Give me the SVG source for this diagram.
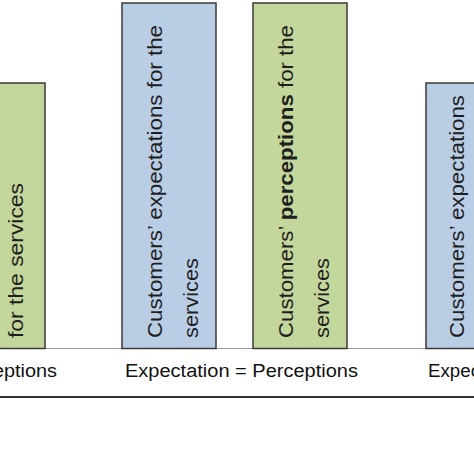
<svg xmlns="http://www.w3.org/2000/svg" width="474" height="474" viewBox="0 0 474 474">
<style>
.bar{stroke:#3a3a3a;stroke-width:1.5}
.blue{fill:#b9cde5}
.green{fill:#c3d69b}
.t{font-family:"Liberation Sans",Arial,sans-serif;font-size:21px;fill:#1e1e1e}
.lbl{font-family:"Liberation Sans",Arial,sans-serif;font-size:18px;fill:#111}
</style>
<rect width="474" height="474" fill="#ffffff"/>
<g id="connectors">
<line x1="0" y1="348.5" x2="474" y2="348.5" stroke="#9a9a9a" stroke-width="1.2"/>
<line x1="0" y1="397" x2="474" y2="397" stroke="#333" stroke-width="2"/>
</g>
<g id="bar1">
<rect class="bar green" x="-10" y="83" width="55" height="265.5"/>
<text class="t" transform="translate(23,338) rotate(-90)" textLength="155" lengthAdjust="spacingAndGlyphs">for the services</text>
</g>
<g id="bar2">
<rect class="bar blue" x="122" y="3" width="94" height="345.5"/>
<text class="t" transform="translate(162,338) rotate(-90)" textLength="313" lengthAdjust="spacingAndGlyphs">Customers’ expectations for the</text>
<text class="t" transform="translate(198,338) rotate(-90)" textLength="80" lengthAdjust="spacingAndGlyphs">services</text>
</g>
<g id="bar3">
<rect class="bar green" x="253" y="3" width="94" height="345.5"/>
<text class="t" transform="translate(293,338) rotate(-90)" textLength="313" lengthAdjust="spacingAndGlyphs">Customers’ <tspan font-weight="bold">perceptions</tspan> for the</text>
<text class="t" transform="translate(329,338) rotate(-90)" textLength="80" lengthAdjust="spacingAndGlyphs">services</text>
</g>
<g id="bar4">
<rect class="bar blue" x="426" y="83" width="60" height="265.5"/>
<text class="t" transform="translate(464,338) rotate(-90)" textLength="243" lengthAdjust="spacingAndGlyphs">Customers’ expectations</text>
</g>
<g id="labels">
<text class="lbl" x="-7" y="377" textLength="64" lengthAdjust="spacingAndGlyphs">eptions</text>
<text class="lbl" x="125" y="377" textLength="233" lengthAdjust="spacingAndGlyphs">Expectation = Perceptions</text>
<text class="lbl" x="428" y="377" textLength="52" lengthAdjust="spacingAndGlyphs">Expec</text>
</g>
</svg>
